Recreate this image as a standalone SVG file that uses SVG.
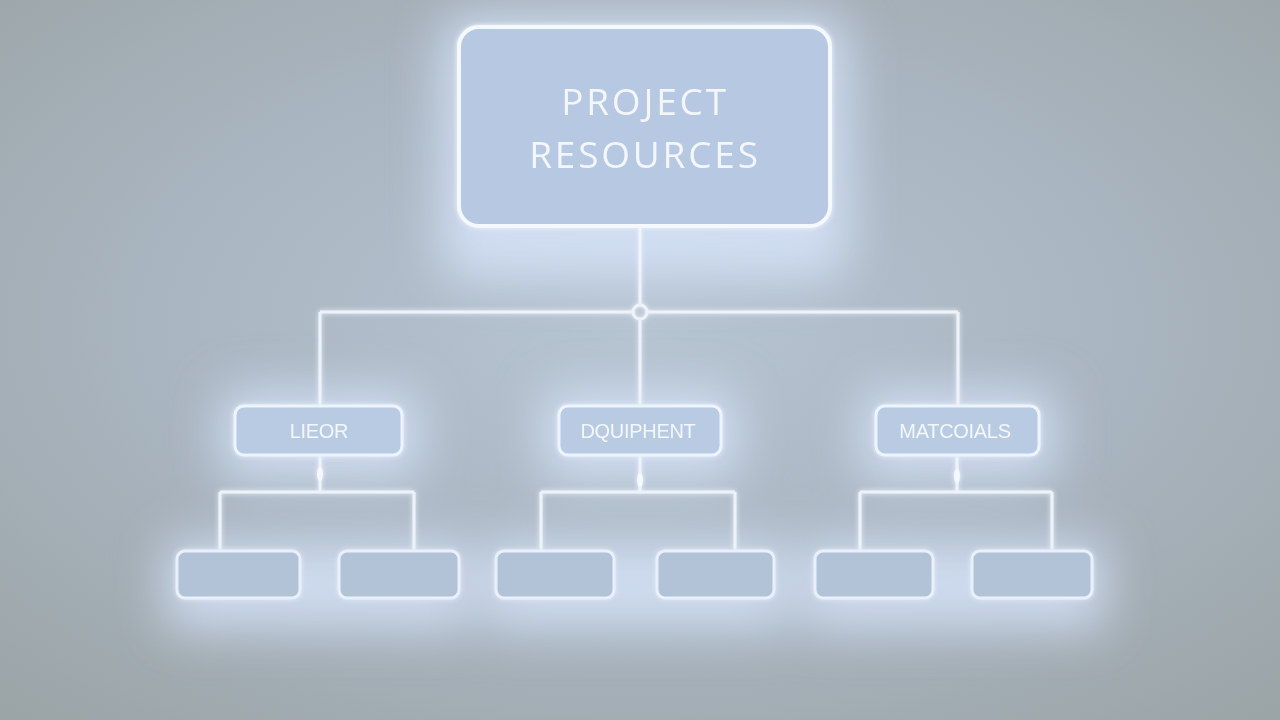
<svg xmlns="http://www.w3.org/2000/svg" width="1280" height="720" viewBox="0 0 1280 720">
<defs>
<radialGradient id="bg" cx="0.5" cy="0.45" r="0.75">
<stop offset="0" stop-color="#b7c4d2"/>
<stop offset="0.5" stop-color="#a9b5c0"/>
<stop offset="1" stop-color="#9aa4a6"/>
</radialGradient>
<filter id="glow" x="-50%" y="-50%" width="200%" height="200%">
<feGaussianBlur stdDeviation="24"/>
</filter>
<filter id="soft" x="-20%" y="-20%" width="140%" height="140%">
<feGaussianBlur stdDeviation="2.5" result="b"/>
<feMerge><feMergeNode in="b"/><feMergeNode in="SourceGraphic"/></feMerge>
</filter>
</defs>
<style>
.box{fill:#b6c8e2;stroke:#f4f8ff;stroke-width:4}
.sub{fill:#b9cbe3;stroke:#eef4ff;stroke-width:3}
.leaf{fill:#b2c3d8;stroke:#e9f0fb;stroke-width:3}
.halo{fill:#dbe8ff;opacity:0.75}
.line{stroke:#eef3fb;stroke-width:3;fill:none}
.t1{font-family:"Open Sans","DejaVu Sans",sans-serif;font-size:37px;fill:#f3f6fb;text-anchor:middle;letter-spacing:2.8px}
.t2{font-family:"Liberation Sans",sans-serif;font-size:20px;fill:#f3f6fb;text-anchor:middle;letter-spacing:-0.3px}
</style>
<rect width="1280" height="720" fill="url(#bg)"/>
<g id="halos" filter="url(#glow)">
<rect class="halo" x="440" y="15" width="410" height="265" rx="30"/>
<rect class="halo" x="220" y="390" width="200" height="90" rx="15"/>
<rect class="halo" x="543" y="390" width="195" height="90" rx="15"/>
<rect class="halo" x="861" y="390" width="195" height="90" rx="15"/>
<rect class="halo" x="165" y="540" width="305" height="90" rx="15" opacity="0.6"/>
<rect class="halo" x="483" y="540" width="305" height="90" rx="15" opacity="0.6"/>
<rect class="halo" x="801" y="540" width="305" height="90" rx="15" opacity="0.6"/>
</g>
<g id="connectors" filter="url(#soft)">
<path class="line" d="M640 228 V305 M640 319 V405 M320 312 H633 M647 312 H958 M320 312 V405 M958 312 V405"/>
<circle class="line" cx="640" cy="312" r="7"/>
<path class="line" d="M320 456 V492 M220 492 H414 M220 492 V550 M414 492 V550"/>
<path class="line" d="M640 456 V492 M541 492 H735 M541 492 V550 M735 492 V550"/>
<path class="line" d="M957 456 V492 M860 492 H1052 M860 492 V550 M1052 492 V550"/>
<ellipse cx="320" cy="474" rx="3" ry="7" fill="#f4f8ff"/>
<ellipse cx="640" cy="480" rx="3" ry="7" fill="#f4f8ff"/>
<ellipse cx="957" cy="476" rx="3" ry="7" fill="#f4f8ff"/>
</g>
<g id="root" filter="url(#soft)">
<rect class="box" x="459" y="27" width="371" height="199" rx="20"/>
<text class="t1" x="645" y="115">PROJECT</text>
<text class="t1" x="645" y="168">RESOURCES</text>
</g>
<g id="labor" filter="url(#soft)">
<rect class="sub" x="235" y="406" width="167" height="49" rx="9"/>
<text class="t2" x="319" y="438">LIEOR</text>
</g>
<g id="equipment" filter="url(#soft)">
<rect class="sub" x="559" y="406" width="162" height="49" rx="9"/>
<text class="t2" x="638" y="438">DQUIPHENT</text>
</g>
<g id="materials" filter="url(#soft)">
<rect class="sub" x="876" y="406" width="163" height="49" rx="9"/>
<text class="t2" x="955" y="438">MATCOIALS</text>
</g>
<g id="leaf1" filter="url(#soft)"><rect class="leaf" x="177" y="551" width="123" height="47" rx="8"/></g>
<g id="leaf2" filter="url(#soft)"><rect class="leaf" x="339" y="551" width="120" height="47" rx="8"/></g>
<g id="leaf3" filter="url(#soft)"><rect class="leaf" x="496" y="551" width="118" height="47" rx="8"/></g>
<g id="leaf4" filter="url(#soft)"><rect class="leaf" x="657" y="551" width="117" height="47" rx="8"/></g>
<g id="leaf5" filter="url(#soft)"><rect class="leaf" x="815" y="551" width="118" height="47" rx="8"/></g>
<g id="leaf6" filter="url(#soft)"><rect class="leaf" x="972" y="551" width="120" height="47" rx="8"/></g>
</svg>
